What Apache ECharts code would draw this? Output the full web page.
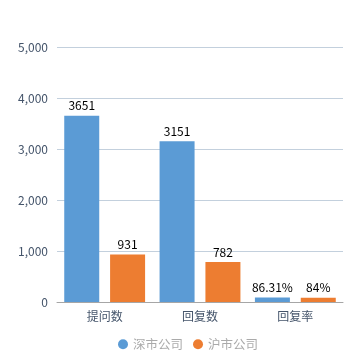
<!DOCTYPE html>
<html>
<head>
<meta charset="utf-8">
<script src="https://cdn.jsdelivr.net/npm/echarts@6/dist/echarts.min.js"></script>
<style>
html, body { margin: 0; padding: 0; background: #fff; }
#main { width: 350px; height: 350px; }
</style>
</head>
<body>
<div id="main"></div>
<script>
// 数据
var categories = ['提问数', '回复数', '回复率'];
var seriesNames = ['深市公司', '沪市公司'];
var szValues = [3651, 3151, 86.31];
var shValues = [931, 782, 84];
var yTicks = [0, 1000, 2000, 3000, 4000, 5000];

var chart = echarts.init(document.getElementById('main'));

// 回复率那一列加百分号
function labelFmt(p) {
    if (p.dataIndex === 2) return p.value + '%';
    return p.value;
}

var option = {
    color: ['#5B9BD5', '#ED7D31'],
    textStyle: { fontFamily: 'Noto Sans CJK SC, sans-serif' },
    grid: { left: 57, right: 7, top: 47, bottom: 48 },
    legend: {
        top: 333,
        left: 113,
        icon: 'circle',
        itemWidth: 10,
        itemHeight: 10,
        itemGap: 10,
        textStyle: { color: '#aaaaaa', fontSize: 12.5 },
        data: seriesNames
    },
    xAxis: {
        type: 'category',
        data: categories,
        axisLine: { lineStyle: { color: '#a6a6a6' } },
        axisTick: { show: false },
        axisLabel: { color: '#44546A', fontSize: 12, margin: 8 }
    },
    yAxis: {
        type: 'value',
        min: yTicks[0],
        max: yTicks[yTicks.length - 1],
        interval: 1000,
        axisLine: { show: false },
        axisTick: { show: false },
        axisLabel: { color: '#44546A', fontSize: 12, margin: 9 },
        splitLine: { lineStyle: { color: '#c3d0dd' } }
    },
    series: [
        {
            name: seriesNames[0],
            type: 'bar',
            data: szValues,
            barWidth: 35,
            barGap: '31%',
            label: { show: true, position: 'top', color: '#000', fontSize: 12, distance: 4, formatter: labelFmt }
        },
        {
            name: seriesNames[1],
            type: 'bar',
            data: shValues,
            barWidth: 35,
            barGap: '31%',
            label: { show: true, position: 'top', color: '#000', fontSize: 12, distance: 4, formatter: labelFmt }
        }
    ]
};
chart.setOption(option);
</script>
</body>
</html>
